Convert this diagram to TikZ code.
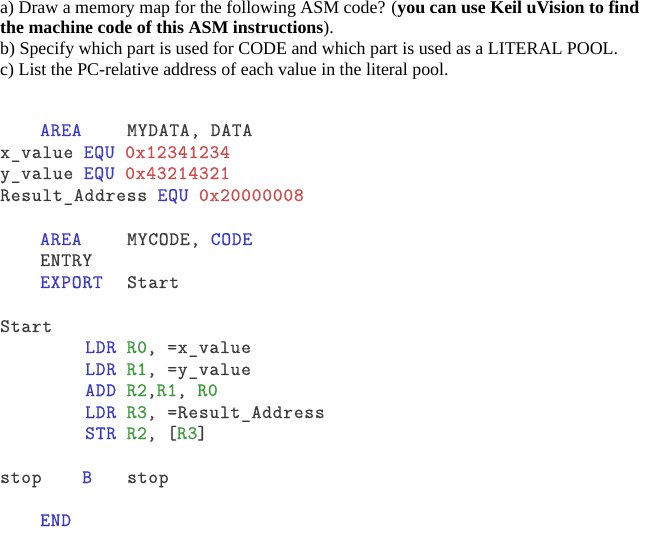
\documentclass[tikz,border=0pt]{standalone}
\usepackage{fontspec}
\setmainfont{Liberation Serif}
\newfontfamily\cour[LetterSpace=4,FakeBold=0.6]{Latin Modern Mono}
\definecolor{kb}{HTML}{3838C8}
\definecolor{kr}{HTML}{D04848}
\definecolor{kg}{HTML}{3A9A3A}
\definecolor{kd}{HTML}{3A3A3A}
\begin{document}
\begin{tikzpicture}[x=1pt,y=-1pt,
  tx/.style={anchor=base west,inner sep=0pt,font=\fontsize{17.9}{20}\selectfont},
  cd/.style={anchor=base west,inner sep=0pt,font=\cour\fontsize{19}{20}\selectfont,text=kd}]
\useasboundingbox (0,0) rectangle (651,537);
\node[tx] (h1) at (0,14) {a) Draw a memory map for the following ASM code? (\textbf{you can use Keil uVision to find}};
\node[tx] (h2) at (0,34) {\textbf{the machine code of this ASM instructions}).};
\node[tx] (h3) at (0,55) {b) Specify which part is used for CODE and which part is used as a LITERAL POOL.};
\node[tx] (h4) at (0,76) {c) List the PC-relative address of each value in the literal pool.};
\node[cd] (l1) at (40,136) {\textcolor{kb}{AREA}};
\node[cd] (l1b) at (127,136) {MYDATA, DATA};
\node[cd] (l2) at (0,158) {x\_value \textcolor{kb}{EQU} \textcolor{kr}{0x12341234}};
\node[cd] (l3) at (0,179) {y\_value \textcolor{kb}{EQU} \textcolor{kr}{0x43214321}};
\node[cd] (l4) at (0,201) {Result\_Address \textcolor{kb}{EQU} \textcolor{kr}{0x20000008}};
\node[cd] (l5) at (40,245) {\textcolor{kb}{AREA}};
\node[cd] (l5b) at (127,245) {MYCODE, \textcolor{kb}{CODE}};
\node[cd] (l6) at (40,266) {ENTRY};
\node[cd] (l7) at (40,288) {\textcolor{kb}{EXPORT}};
\node[cd] (l7b) at (127,288) {Start};
\node[cd] (l8) at (0,332) {Start};
\node[cd] (l9) at (85,353) {\textcolor{kb}{LDR} \textcolor{kg}{R0}, =x\_value};
\node[cd] (l10) at (85,375) {\textcolor{kb}{LDR} \textcolor{kg}{R1}, =y\_value};
\node[cd] (l11) at (85,396) {\textcolor{kb}{ADD} \textcolor{kg}{R2},\textcolor{kg}{R1}, \textcolor{kg}{R0}};
\node[cd] (l12) at (85,418) {\textcolor{kb}{LDR} \textcolor{kg}{R3}, =Result\_Address};
\node[cd] (l13) at (85,439) {\textcolor{kb}{STR} \textcolor{kg}{R2}, [\textcolor{kg}{R3}]};
\node[cd] (l14) at (0,483) {stop};
\node[cd] (l15) at (82,483) {\textcolor{kb}{B}};
\node[cd] (l16) at (127,483) {stop};
\node[cd] (l17) at (40,526) {\textcolor{kb}{END}};
\end{tikzpicture}
\end{document}
